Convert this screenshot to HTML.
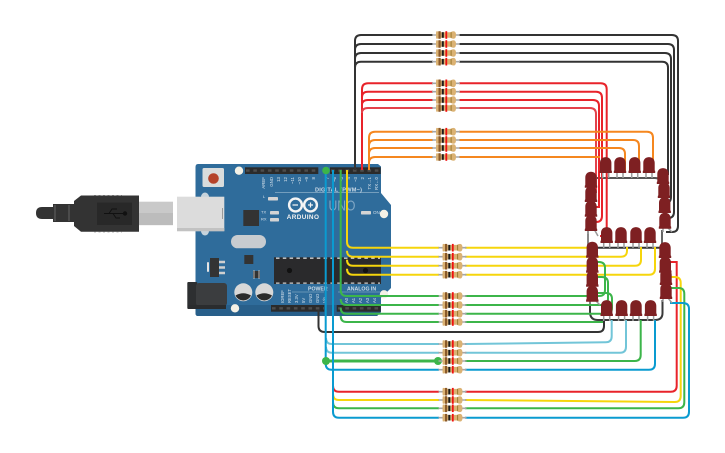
<!DOCTYPE html>
<html><head><meta charset="utf-8"><style>
html,body{margin:0;padding:0;background:#fff;width:725px;height:453px;overflow:hidden}
svg{display:block}
text{font-family:"Liberation Sans",sans-serif}
</style></head><body>
<svg width="725" height="453" viewBox="0 0 725 453" xmlns="http://www.w3.org/2000/svg">
<defs>
<g id="r">
<path d="M-14 0H14" stroke="#a5a5a5" stroke-width="1.6"/>
<path d="M-9.500 -3.800 Q-7 -3.800 -5.500 -2.800 H4.500 Q6 -3.800 7.500 -3.800 Q10 -3.800 10 0 Q10 3.800 7.500 3.800 Q6 3.800 4.500 2.800 H-5.500 Q-7 3.800 -9.500 3.800 Q-10 3.800 -10 0 Q-10 -3.800 -9.500 -3.800Z" fill="#dbb273"/>
<rect x="-7.500" y="-3.800" width="2.200" height="7.600" fill="#8a5a2b"/>
<rect x="-4.200" y="-2.800" width="2" height="5.600" fill="#1c1c1c"/>
<rect x="-0.600" y="-3.800" width="1.800" height="7.600" fill="#f01010"/>
<rect x="4.600" y="-2.800" width="1" height="5.600" fill="#9a7a30"/>
</g>
<path id="head" d="M-5.700 5.800 C-5.700 -1.800 5.700 -1.800 5.700 5.800 V13.400 L6.200 14 V16 H-6.200 V14 L-5.700 13.400Z" fill="#7e2022"/>
<g id="led">
<path d="M-3 15V21M3 15V21" stroke="#9a9a9a" stroke-width="1.5"/>
<use href="#head"/>
</g>
</defs>

<!-- board -->
<path d="M198 164 H378 L381 166.500 V193 L391 205 V288 L381 298 V312 L377 316 H198 Q195.500 316 195.500 313 V167 Q195.500 164 198 164Z" fill="#2f6c9b"/>
<path d="M195.500 305 V313 Q195.500 316 198 316 H377 L381 312 V305Z" fill="#285f8a"/>
<circle cx="239" cy="170.700" r="4.200" fill="#f4f1e6"/><circle cx="384" cy="214" r="4.200" fill="#f4f1e6"/><circle cx="235" cy="308.300" r="4.200" fill="#f4f1e6"/><circle cx="384" cy="294.300" r="4.200" fill="#f4f1e6"/>

<!-- reset -->
<rect x="202.500" y="168" width="21.500" height="19" rx="1.500" fill="#d9dcdc"/>
<circle cx="213.500" cy="178.500" r="5.300" fill="#b5432a"/>
<!-- headers -->
<rect x="245" y="167.300" width="73.300" height="6.700" fill="#2b2b2b"/>
<rect x="330" y="167.300" width="50.700" height="6.700" fill="#2b2b2b"/>
<rect x="271" y="305" width="53.300" height="6.700" fill="#2b2b2b"/>
<rect x="336.700" y="305" width="44" height="6.700" fill="#2b2b2b"/>
<path d="M246 170.600H318M331 170.600H380M272 308.300H324M338 308.300H380" stroke="#4d4d4d" stroke-width="2.400" stroke-dasharray="3.600 3.700"/>

<!-- usb -->
<rect x="227" y="197" width="4" height="33" fill="#2f6c9b"/>
<ellipse cx="205" cy="197" rx="4" ry="4.500" fill="#c6d3dc"/><ellipse cx="205" cy="231" rx="4" ry="4.500" fill="#c6d3dc"/>
<rect x="177" y="196.700" width="47.300" height="34.500" fill="#dcdcdc"/>
<rect x="177" y="228" width="47.300" height="3.200" fill="#c2c2c2"/>
<rect x="222" y="208" width="1" height="11" fill="#9a9a9a"/>
<rect x="139" y="201.700" width="34" height="23.500" fill="#c9c9c9"/>
<rect x="139" y="213" width="34" height="12" fill="#bcbcbc"/>
<path d="M42 207 H53 V219 H42 Q36 219 36 213 Q36 207 42 207Z" fill="#333"/>
<rect x="53" y="204" width="21" height="18" fill="#333"/>
<path d="M55 205V221M69 205V221" stroke="#4b4b4b" stroke-width="2"/>
<path d="M74 201 L81 195.500 H139 V231.700 H81 L74 226Z" fill="#333"/>
<path d="M94 195.500H122M94 231.700H122" stroke="#6b6b6b" stroke-width="1" stroke-dasharray="2 2.500"/>
<rect x="97" y="202.500" width="35" height="22.500" fill="#282828"/>
<path d="M104 213.500H125M109 213.500 L112 209H117M113 213.500 L116 218H120" stroke="#111" stroke-width="1" fill="none"/>
<circle cx="125" cy="213.500" r="2.200" fill="#111"/>

<!-- jack -->
<rect x="187.300" y="282" width="10" height="27" rx="1" fill="#2d2f31"/>
<rect x="196" y="283" width="31" height="23" rx="3" fill="#3b3d3f"/>
<rect x="188" y="305" width="38" height="4" fill="#2a2c2e"/>

<!-- regulator -->
<rect x="207" y="262" width="2" height="10" rx="1" fill="#e4e4e4"/>
<rect x="210" y="258" width="9" height="19" fill="#333"/>
<path d="M219 262H225M219 267.500H225M219 273H225" stroke="#d0d0d0" stroke-width="2.500"/>

<!-- chips -->
<rect x="243.300" y="210" width="15.700" height="16" fill="#333"/>
<rect x="231" y="235" width="35" height="13.300" rx="6.600" fill="#c8ccd0"/>
<rect x="244.300" y="255" width="9" height="9" fill="#333"/>
<rect x="253" y="271" width="7" height="7" fill="#333"/>
<path d="M254 270V279M259 270V279" stroke="#bbb" stroke-width="1"/>
<circle cx="243.300" cy="292.300" r="9" fill="#d8d8d8"/><path d="M235.500 295.500 Q243.300 291 251 295.500 A8.500 8.500 0 0 1 235.500 295.500Z" fill="#2b2b2b"/>
<circle cx="264.300" cy="292.300" r="9" fill="#d8d8d8"/><path d="M256.500 295.500 Q264.300 291 272 295.500 A8.500 8.500 0 0 1 256.500 295.500Z" fill="#2b2b2b"/>
<rect x="274" y="257.300" width="107" height="26.700" fill="#2a2a2c"/>
<path d="M276 258.200H380M276 283.100H380" stroke="#cfcfcf" stroke-width="1.300" stroke-dasharray="3.500 3.300"/>
<circle cx="289.500" cy="270.500" r="2.600" fill="#111"/><circle cx="365.500" cy="270.500" r="2.600" fill="#111"/>

<!-- LEDs on board -->
<rect x="268" y="197" width="10" height="3.500" rx="0.800" fill="#d4d4d4"/>
<rect x="270" y="211" width="9" height="3.500" rx="0.800" fill="#d4d4d4"/>
<rect x="270" y="218" width="9" height="3.500" rx="0.800" fill="#d4d4d4"/>
<rect x="361" y="211" width="10" height="3.500" rx="0.800" fill="#d4d4d4"/>

<!-- logo -->
<g fill="none" stroke="#f4f4f4" stroke-width="2.400"><circle cx="295.500" cy="205" r="6.400"/><circle cx="310.500" cy="205" r="6.400"/></g>
<path d="M292.500 205H298M308 205H313M310.500 202.500V207.500" stroke="#f4f4f4" stroke-width="1.200"/>
<text x="303" y="219" font-size="6.400" font-weight="700" fill="#f0f0f0" text-anchor="middle" letter-spacing=".4">ARDUINO</text>
<text x="342" y="210.500" font-size="14.500" fill="#7fa6c4" text-anchor="middle" textLength="27" lengthAdjust="spacingAndGlyphs">UNO</text>
<text x="315" y="191.500" font-size="5.600" font-weight="700" fill="#cfdde8" textLength="47">DIGITAL (PWM~)</text>
<path d="M275 192.700H379" stroke="#9dbbd1" stroke-width=".7"/>
<text x="373" y="214" font-size="4.500" fill="#cfdde8">ON</text>
<text x="263" y="198" font-size="4" fill="#dbe5ed">L</text>
<text x="261" y="213.500" font-size="4" fill="#dbe5ed">TX</text>
<text x="261" y="220.500" font-size="4" fill="#dbe5ed">RX</text>
<text x="308" y="290.500" font-size="5.200" font-weight="700" fill="#cfdde8">POWER</text>
<text x="347" y="290.500" font-size="5.200" font-weight="700" fill="#cfdde8">ANALOG IN</text>
<path d="M292 292H324M338 292H380" stroke="#9dbbd1" stroke-width=".6"/>
<g font-size="4.400" fill="#dbe5ed" text-anchor="end">
<text transform="translate(265 177) rotate(-90)">AREF</text><text transform="translate(273 177) rotate(-90)">GND</text><text transform="translate(280 177) rotate(-90)">13</text><text transform="translate(287 177) rotate(-90)">12</text><text transform="translate(294 177) rotate(-90)">~11</text><text transform="translate(301 177) rotate(-90)">~10</text><text transform="translate(308 177) rotate(-90)">~9</text><text transform="translate(315 177) rotate(-90)">8</text>
<text transform="translate(329 177) rotate(-90)">7</text><text transform="translate(336 177) rotate(-90)">~6</text><text transform="translate(343 177) rotate(-90)">~5</text><text transform="translate(350 177) rotate(-90)">4</text><text transform="translate(357 177) rotate(-90)">~3</text><text transform="translate(364 177) rotate(-90)">2</text><text transform="translate(371 177) rotate(-90)">TX→1</text><text transform="translate(378 177) rotate(-90)">RX←0</text>
</g>
<g font-size="4.200" fill="#dbe5ed">
<text transform="translate(284 303) rotate(-90)">IOREF</text><text transform="translate(291 303) rotate(-90)">RESET</text><text transform="translate(298 303) rotate(-90)">3.3V</text><text transform="translate(305 303) rotate(-90)">5V</text><text transform="translate(312 303) rotate(-90)">GND</text><text transform="translate(319 303) rotate(-90)">GND</text><text transform="translate(326 303) rotate(-90)">Vin</text>
<text transform="translate(348 303) rotate(-90)">A0</text><text transform="translate(355 303) rotate(-90)">A1</text><text transform="translate(362 303) rotate(-90)">A2</text><text transform="translate(369 303) rotate(-90)">A3</text><text transform="translate(376 303) rotate(-90)">A4</text>
</g>

<!-- frame lines -->
<g fill="none" stroke-width="2">
<path d="M596 178 H655 Q661 178 662 184" stroke="#555"/>
<path d="M588 230 V246" stroke="#888"/>
<path d="M662 230 V247" stroke="#666"/>
<path d="M590 247.700 H662" stroke="#333"/>
<path d="M590 300 V312 Q590 320 598 320 H655 Q662.500 320 662.500 313 V300" stroke="#3a3a3a"/>
</g>

<!-- wires -->
<g fill="none" stroke-width="2">
<g stroke="#333">
<path d="M355 170 V41 Q355 35 361 35 H433 M459 35 H672 Q678 35 678 41 V226 Q678 232 672 232 H666"/>
<path d="M355 50 Q355 44 361 44 H433 M459 44 H668 Q674 44 674 50 V212 Q674 218 668 218 H666"/>
<path d="M355 59 Q355 53 361 53 H433 M459 53 H665 Q671 53 671 59 V197 Q671 203 665 203"/>
<path d="M355 67.500 Q355 61.700 361 61.700 H433 M459 61.700 H662 Q668 61.700 668 67.500 V175"/>
<path d="M318.500 310 V326 Q318.500 332 325 332 H598 Q604 332 604 326 V320"/>
</g>
<g stroke="#e8232a">
<path d="M362 170 V89.300 Q362 83.300 368 83.300 H433 M459 83.300 H600.700 Q606.700 83.300 606.700 89.300 V236 H600"/>
<path d="M362 97 Q362 91.700 368 91.700 H433 M459 91.700 H596 Q602 91.700 602 97.700 V216 Q602 222 596 222"/>
<path d="M362 105 Q362 100 368 100 H433 M459 100 H593 Q599 100 599 106 V207 H594"/>
<path d="M362 113 Q362 108 368 108 H433 M459 108 H590 Q596 108 596 114 V192 H594" stroke="#e4414a"/>
<path d="M670 262 H676.700 V385.700 Q676.700 391.700 670.700 391.700 H465 M439 391.700 H339 Q333 391.700 333 385.700"/>
</g>
<g stroke="#f5871f">
<path d="M369 170 V137.700 Q369 131.700 375 131.700 H433 M459 131.700 H647 Q653 131.700 653 137.700 V170"/>
<path d="M369 146 Q369 140 375 140 H433 M459 140 H633 Q639 140 639 146 V170"/>
<path d="M369 154 Q369 148 375 148 H433 M459 148 H619 Q625 148 625 154 V172"/>
<path d="M369 163 Q369 157 375 157 H433 M459 157 H600"/>
</g>
<g stroke="#f6d50c">
<path d="M347 170 V241.700 Q347 247.700 353 247.700 H439 M465 247.700 H592"/>
<path d="M347 250.700 Q347 256.700 353 256.700 H439 M465 256.700 H621 Q627 256.700 627 250.700 V247"/>
<path d="M347 259.700 Q347 265.700 353 265.700 H439 M465 265.700 H635 Q641 265.700 641 259.700 V247"/>
<path d="M347 268.700 Q347 274.700 353 274.700 H439 M465 274.700 H649 Q655 274.700 655 268.700 V247"/>
<path d="M670 277 H675 Q680.700 277 680.700 283 V396 Q680.700 402 674.700 402 L465 400 M439 400 H339 Q333 400 333 394"/>
</g>
<g stroke="#3cb54a">
<path d="M340.700 170 V290 Q340.700 296 346.700 296 H439 M465 296 H599 Q605 296 605 290 V268 Q605 262 599 262 H596"/>
<path d="M340.700 299 Q340.700 305 346.700 305 H439 M465 305 H602 Q608 305 608 299 V283 Q608 277 602 277 H597"/>
<path d="M340.700 307.700 Q340.700 313.700 346.700 313.700 H439 M465 313.700 H606 Q612 313.700 612 307.700 V299 Q612 293 606 293 H597"/>
<path d="M340.700 316 Q340.700 322 346.700 322 H439 M465 322 H603"/>
<path d="M670 288 H679 Q684.300 288 684.300 294 V402.300 Q684.300 408.300 678.300 408.300 H465 M439 408.300 H339 Q333 408.300 333 402.300"/>
<path d="M465 361 H634.700 Q640.700 361 640.700 355 V320"/>
</g>
<path d="M326 361 H438" stroke="#3cb54a" stroke-width="3"/>
<g stroke="#72c5d8">
<path d="M326 338 Q326 344 332 344 H439 M465 344 L605.700 342.300 Q611.700 342.300 611.700 336.300 V320"/>
<path d="M326 346.700 Q326 352.700 332 352.700 H439 M465 352.700 H620 Q626 352.700 626 346.700 V320"/>
</g>
<g stroke="#0a9bd0">
<path d="M325.700 170 V363.700 Q325.700 369.700 331.700 369.700 H439 M465 369.700 H649 Q655 369.700 655 363.700 V320"/>
<path d="M333 170 V411.700 Q333 417.700 339 417.700 H439 M465 417.700 H683 Q689 417.700 689 411.700 V309 Q689 303 683 303 H670"/>
</g>
</g>
<circle cx="326" cy="170.500" r="3.800" fill="#3cb54a"/>
<circle cx="326" cy="361" r="4" fill="#3cb54a"/>
<circle cx="438" cy="361" r="4" fill="#3cb54a"/>

<!-- resistors -->
<g>
<use href="#r" x="446" y="35"/><use href="#r" x="446" y="44"/><use href="#r" x="446" y="53"/><use href="#r" x="446" y="61.700"/>
<use href="#r" x="446" y="83.300"/><use href="#r" x="446" y="91.700"/><use href="#r" x="446" y="100"/><use href="#r" x="446" y="108"/>
<use href="#r" x="446" y="131.700"/><use href="#r" x="446" y="140"/><use href="#r" x="446" y="148"/><use href="#r" x="446" y="157"/>
<use href="#r" x="452.500" y="247.700"/><use href="#r" x="452.500" y="256.700"/><use href="#r" x="452.500" y="265.700"/><use href="#r" x="452.500" y="274.700"/>
<use href="#r" x="452.500" y="296"/><use href="#r" x="452.500" y="305"/><use href="#r" x="452.500" y="313.700"/><use href="#r" x="452.500" y="322"/>
<use href="#r" x="452.500" y="344"/><use href="#r" x="452.500" y="352.700"/><use href="#r" x="452.500" y="361"/><use href="#r" x="452.500" y="369.700"/>
<use href="#r" x="452.500" y="391.700"/><use href="#r" x="452.500" y="400"/><use href="#r" x="452.500" y="408.300"/><use href="#r" x="452.500" y="417.700"/>
</g>

<!-- LEDs -->
<g>
<use href="#led" x="605.700" y="157"/><use href="#led" x="620" y="157"/><use href="#led" x="634.700" y="157"/><use href="#led" x="649" y="157"/>
<use href="#led" x="606.700" y="227"/><use href="#led" x="621" y="227"/><use href="#led" x="636" y="227"/><use href="#led" x="650" y="227"/>
<use href="#led" x="606.700" y="300"/><use href="#led" x="621.600" y="300"/><use href="#led" x="636" y="300"/><use href="#led" x="650.600" y="300"/>
<path d="M594 229L598 236M588 229V234M595 300L600 305M590 300V304M668 228L672 232M663 228V232M668 298L672 303M663 298V302" stroke="#9a9a9a" stroke-width="1.500" fill="none"/>
<use href="#head" x="591" y="215"/><use href="#head" x="591" y="200.700"/><use href="#head" x="591" y="186"/><use href="#head" x="591" y="171.700"/>
<use href="#head" x="592.300" y="285.700"/><use href="#head" x="592.300" y="270.700"/><use href="#head" x="592.300" y="256.700"/><use href="#head" x="592.300" y="241.700"/>
<use href="#head" x="665" y="212.700"/><use href="#head" x="664.700" y="197"/><use href="#head" x="664" y="182"/><use href="#head" x="663" y="168"/>
<use href="#head" x="666" y="283"/><use href="#head" x="666" y="269"/><use href="#head" x="665.300" y="256.700"/><use href="#head" x="665" y="242"/>
</g>
</svg>
</body></html>
